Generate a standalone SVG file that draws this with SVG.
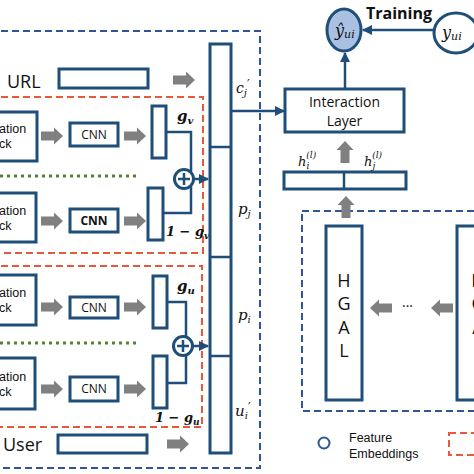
<svg xmlns="http://www.w3.org/2000/svg" width="474" height="474" viewBox="0 0 474 474">
<style>
.box{fill:#fff;stroke:#1f4e79;stroke-width:3}
.ln{fill:none;stroke:#1f4e79;stroke-width:2.5}
.bd{fill:none;stroke:#2f5597;stroke-width:2;stroke-dasharray:7 4}
.rd{fill:none;stroke:#e8583a;stroke-width:2;stroke-dasharray:7 4}
.gd{fill:none;stroke:#548235;stroke-width:3;stroke-dasharray:3 4}
.t{font-family:"Open Sans","Noto Sans",sans-serif;fill:#111}
.bt{font-family:"Liberation Sans",Arial,sans-serif;fill:#111;font-size:12.5px}
.m{font-family:"DejaVu Serif","Liberation Serif",serif;font-style:italic;fill:#111}
.pr{font-family:"DejaVu Sans",sans-serif;font-style:normal}
.mb{font-family:"DejaVu Serif","Liberation Serif",serif;font-style:italic;font-weight:bold;fill:#111}
</style>
<defs>
<path id="ga" d="M0,-4.5 H13 V-8.5 L22,0 L13,8.5 V4.5 H0 Z" fill="#808080"/>
<marker id="ah" viewBox="0 0 10 10" refX="9" refY="5" markerWidth="4" markerHeight="4" orient="auto"><path d="M0,0 L10,5 L0,10 Z" fill="#1f4e79"/></marker>
</defs>
<rect id="outer" class="bd" x="-10" y="31" width="270" height="437"/>
<rect class="rd" x="-10" y="97" width="213" height="156"/>
<rect class="rd" x="-10" y="266" width="212" height="161"/>
<rect class="bd" x="302" y="211" width="190" height="200"/>
<line class="gd" x1="0" y1="176" x2="136" y2="176"/>
<line class="gd" x1="0" y1="343" x2="138" y2="343"/>
<g id="url"><text class="t" x="7" y="88" font-size="18">URL</text><rect class="box" x="59" y="69" width="89" height="19"/></g>
<g id="user"><text class="t" x="3" y="451" font-size="18">User</text><rect class="box" x="58" y="435" width="89" height="18"/></g>
<g id="block1"><rect class="box" x="-10" y="112" width="47" height="49"/><text class="bt" x="-1" y="133">ation</text><text class="bt" x="-1" y="148">ck</text></g>
<g id="block2"><rect class="box" x="-10" y="193" width="46" height="49"/><text class="bt" x="-1" y="215">ation</text><text class="bt" x="-1" y="230">ck</text></g>
<g id="block3"><rect class="box" x="-10" y="275" width="46" height="50"/><text class="bt" x="-1" y="297">ation</text><text class="bt" x="-1" y="312">ck</text></g>
<g id="block4"><rect class="box" x="-10" y="358" width="45" height="51"/><text class="bt" x="-1" y="381">ation</text><text class="bt" x="-1" y="396">ck</text></g>
<g id="cnn1"><rect class="box" x="70" y="123" width="48" height="23"/><text class="t" font-size="12" x="94" y="139" text-anchor="middle">CNN</text></g>
<g id="cnn2"><rect class="box" x="70" y="209" width="48" height="23"/><text class="t" font-size="12" font-weight="bold" x="94" y="225" text-anchor="middle">CNN</text></g>
<g id="cnn3"><rect class="box" x="70" y="297" width="48" height="21"/><text class="t" font-size="12" x="94" y="312" text-anchor="middle">CNN</text></g>
<g id="cnn4"><rect class="box" x="70" y="377" width="48" height="24"/><text class="t" font-size="12" x="94" y="393" text-anchor="middle">CNN</text></g>
<g id="gv"><rect class="box" x="152" y="106" width="14" height="52"/><text class="mb" font-size="15" x="177" y="121">g<tspan font-size="10" dy="3">v</tspan></text></g>
<g id="gv1"><rect class="box" x="148" y="188" width="15" height="52"/><text class="mb" font-size="13" x="166" y="236">1 − g<tspan font-size="9" dy="3">v</tspan></text></g>
<g id="gu"><rect class="box" x="153" y="276" width="14" height="52"/><text class="mb" font-size="15" x="177" y="291">g<tspan font-size="10" dy="3">u</tspan></text></g>
<g id="gu1"><rect class="box" x="153" y="356" width="14" height="52"/><text class="mb" font-size="13" x="155" y="422">1 − g<tspan font-size="9" dy="3">u</tspan></text></g>
<g id="plus1"><circle cx="184" cy="179" r="9.5" fill="#fff" stroke="#1f4e79" stroke-width="3"/><path d="M178,179 H190 M184,173 V185" stroke="#1f4e79" stroke-width="2.5"/></g>
<g id="plus2"><circle cx="183" cy="346" r="9.5" fill="#fff" stroke="#1f4e79" stroke-width="3"/><path d="M177,346 H189 M183,340 V352" stroke="#1f4e79" stroke-width="2.5"/></g>
<g id="column"><rect class="box" x="210" y="44" width="21" height="409"/><path class="ln" d="M210,147 H231 M210,257 H231 M210,356 H231" stroke-width="3"/>
<text class="m" font-size="14" x="236" y="93">c<tspan font-size="10" dy="3">j</tspan><tspan class="pr" dy="-8" font-size="12">′</tspan></text>
<text class="m" font-size="15" x="238" y="214">p<tspan font-size="10" dy="3">j</tspan></text>
<text class="m" font-size="15" x="238" y="320">p<tspan font-size="10" dy="3">i</tspan></text>
<text class="m" font-size="15" x="235" y="416">u<tspan font-size="10" dy="3">i</tspan><tspan class="pr" dy="-8" font-size="12">′</tspan></text></g>
<g id="interaction"><rect class="box" x="285" y="89" width="119" height="43"/><text class="t" font-size="14" x="344.5" y="107" text-anchor="middle">Interaction</text><text class="t" font-size="14" x="344.5" y="126" text-anchor="middle">Layer</text></g>
<g id="yhat"><ellipse cx="344" cy="30" rx="17" ry="21" fill="#a9c0e2" stroke="#1f4e79" stroke-width="3"/><text class="m" font-size="16" x="335" y="36">ŷ<tspan font-size="11" dy="2">ui</tspan></text></g>
<g id="y"><ellipse cx="456" cy="33" rx="22" ry="20" fill="#fff" stroke="#1f4e79" stroke-width="3"/><text class="m" font-size="16" x="442" y="38">y<tspan font-size="11" dy="2">ui</tspan></text></g>
<text class="t" font-size="16" font-weight="bold" x="366" y="19">Training</text>
<g id="hvec"><rect class="box" x="284" y="172" width="122" height="17"/><line class="ln" x1="344" y1="172" x2="344" y2="189" stroke-width="3"/>
<text class="m" font-size="13" x="298" y="166">h<tspan font-size="9" dy="3">i</tspan><tspan font-size="9" dx="-3" dy="-11">(l)</tspan></text>
<text class="m" font-size="13" x="364" y="166">h<tspan font-size="9" dy="3">j</tspan><tspan font-size="9" dx="-3" dy="-11">(l)</tspan></text></g>
<g id="hgal1"><rect class="box" x="326" y="226" width="36" height="174"/><text class="t" font-size="18" text-anchor="middle" x="344"><tspan x="344" y="287">H</tspan><tspan x="344" y="310">G</tspan><tspan x="344" y="334">A</tspan><tspan x="344" y="357">L</tspan></text></g>
<g id="hgal2"><rect class="box" x="457" y="226" width="36" height="174"/><text class="t" font-size="18" text-anchor="middle" x="478"><tspan x="478" y="287">H</tspan><tspan x="478" y="310">G</tspan><tspan x="478" y="334">A</tspan><tspan x="478" y="357">L</tspan></text></g>
<text class="t" font-size="14" x="402" y="311">···</text>
<g id="legend"><circle cx="324" cy="443" r="5.5" fill="#fff" stroke="#2f5597" stroke-width="2"/><text class="bt" font-size="13" x="349" y="442">Feature</text><text class="bt" font-size="13" x="349" y="458">Embeddings</text><rect class="rd" x="449" y="433" width="40" height="22"/></g>
<g id="connectors">
<use href="#ga" x="173" y="80"/>
<use href="#ga" x="41" y="136"/><use href="#ga" x="124" y="136"/>
<use href="#ga" x="41" y="221"/><use href="#ga" x="124" y="221"/>
<use href="#ga" x="41" y="307"/><use href="#ga" x="124" y="307"/>
<use href="#ga" x="41" y="389"/><use href="#ga" x="124" y="389"/>
<use href="#ga" x="167" y="444"/>
<use href="#ga" transform="translate(392,308) rotate(180)"/>
<use href="#ga" transform="translate(453,308) rotate(180)"/>
<use href="#ga" transform="translate(345,163) rotate(-90)"/>
<use href="#ga" transform="translate(346,218) rotate(-90)"/>
<path class="ln" d="M166,132 H191 V172"/>
<path class="ln" d="M163,213 H191 V186"/>
<path class="ln" d="M167,302 H186 V337"/>
<path class="ln" d="M167,383 H186 V355"/>
<line class="ln" x1="193" y1="179" x2="208" y2="179" marker-end="url(#ah)"/>
<line class="ln" x1="192" y1="346" x2="208" y2="346" marker-end="url(#ah)"/>
<line class="ln" x1="231" y1="111" x2="284" y2="111" marker-end="url(#ah)"/>
<line class="ln" x1="345" y1="89" x2="345" y2="53" marker-end="url(#ah)"/>
<line class="ln" x1="434" y1="30" x2="363" y2="30" marker-end="url(#ah)"/>
</g>
</svg>
